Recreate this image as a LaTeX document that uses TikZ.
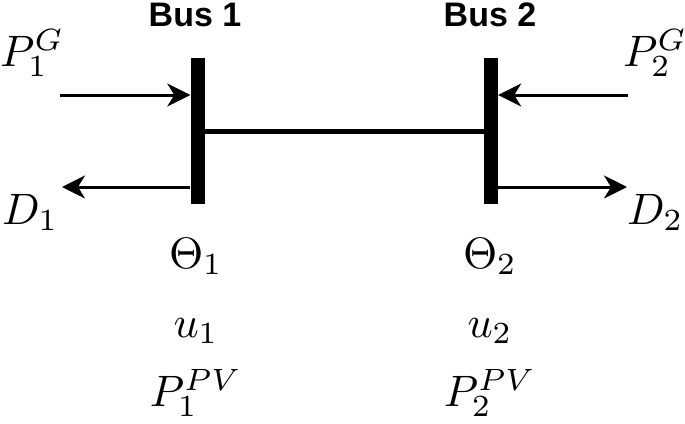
\documentclass[tikz,border=0pt]{standalone}
\usepackage{fontspec}
\setsansfont{Liberation Sans}
\usetikzlibrary{arrows.meta}
\newcommand{\mylbl}[1]{\scalebox{4.4}{$#1$}}
\begin{document}
\begin{tikzpicture}[x=1pt,y=-1pt,
  busbar/.style={fill=black,draw=none,inner sep=0pt,minimum width=14pt,minimum height=146pt},
  arr/.style={line width=3pt,-{Stealth[length=23pt,width=23pt,inset=7pt]}},
  lbl/.style={inner sep=0pt},
  buslbl/.style={inner sep=0pt,anchor=base,font=\sffamily\bfseries\fontsize{34}{38}\selectfont}]
\useasboundingbox (0,0) rectangle (685,423);
\node[busbar] (bus1) at (197.5,131) {};
\node[busbar] (bus2) at (491,131) {};
\draw[line width=5pt] (bus1) -- (bus2);
\node[buslbl] (b1) at (195,27) {Bus 1};
\node[buslbl] (b2) at (490,27) {Bus 2};
\coordinate (p1s) at (60,95);
\coordinate (d1e) at (62,187);
\coordinate (p2s) at (628,95);
\coordinate (d2e) at (627,187);
\draw[arr] (p1s) -- (bus1.west |- p1s);
\draw[arr] (bus1.west |- d1e) -- (d1e);
\draw[arr] (p2s) -- (bus2.east |- p2s);
\draw[arr] (bus2.east |- d2e) -- (d2e);
\node[lbl,anchor=base west] (p1g) at (0,66) {\mylbl{P_1^G}};
\node[lbl,anchor=base west] (d1) at (2,224) {\mylbl{D_1}};
\node[lbl,anchor=base west] (p2g) at (623,66) {\mylbl{P_2^G}};
\node[lbl,anchor=base west] (d2) at (627,224) {\mylbl{D_2}};
\node[lbl,anchor=base] (t1) at (196,268) {\mylbl{\Theta_1}};
\node[lbl,anchor=base] (u1) at (196,337) {\mylbl{u_1}};
\node[lbl,anchor=base] (pv1) at (196,406) {\mylbl{P_1^{PV}}};
\node[lbl,anchor=base] (t2) at (490,268) {\mylbl{\Theta_2}};
\node[lbl,anchor=base] (u2) at (490,337) {\mylbl{u_2}};
\node[lbl,anchor=base] (pv2) at (490,406) {\mylbl{P_2^{PV}}};
\end{tikzpicture}
\end{document}
